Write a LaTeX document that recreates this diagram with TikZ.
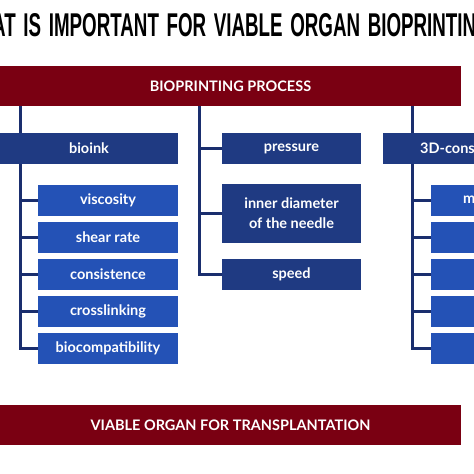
\documentclass[tikz,border=0pt]{standalone}
\usepackage{fontspec}
\setmainfont{Lato}
\newfontfamily\titlefont{Liberation Sans}
\usetikzlibrary{backgrounds}
\definecolor{barred}{RGB}{122,0,18}
\definecolor{navy}{RGB}{31,58,130}
\definecolor{brightblue}{RGB}{36,82,182}
\definecolor{linecol}{RGB}{26,46,110}
\tikzset{
  redbar/.style={fill=barred, draw=none, text=white, inner sep=0pt, minimum width=461pt, minimum height=40pt, font=\fontsize{14.5}{17}\selectfont\bfseries},
  headbox/.style={fill=navy, draw=none, text=white, inner sep=0pt, minimum height=31pt, font=\fontsize{14.5}{20}\selectfont\bfseries, align=center},
  itembox/.style={fill=brightblue, draw=none, text=white, inner sep=0pt, minimum width=140pt, minimum height=31pt, font=\fontsize{14.5}{20}\selectfont\bfseries},
  conn/.style={draw=linecol, line width=3pt},
  plaintext/.style={text=white, inner sep=0pt, font=\fontsize{14.5}{20}\selectfont\bfseries},
  titletext/.style={anchor=base west, inner sep=0pt, text=black}
}
\begin{document}
\begin{tikzpicture}[x=1pt,y=-1pt]
\useasboundingbox (0,0) rectangle (474,474);
\clip (0,0) rectangle (474,474);
% title
\node[titletext] (title) at (-8,36) {\resizebox{484pt}{23pt}{\titlefont\bfseries\fontsize{32}{32}\selectfont\spaceskip=13pt\relax AT IS IMPORTANT FOR VIABLE ORGAN BIOPRINTIN}};
% bars
\node[redbar] (proc) at (230.5,86) {BIOPRINTING PROCESS};
\node[redbar] (viable) at (230.5,425) {VIABLE ORGAN FOR TRANSPLANTATION};
% column 1
\node[headbox, minimum width=178pt] (bioink) at (89,148.5) {bioink};
\node[itembox] (visc) at (108,200) {viscosity};
\node[itembox] (shear) at (108,237.5) {shear rate};
\node[itembox] (cons) at (108,274.5) {consistence};
\node[itembox] (cross) at (108,311.5) {crosslinking};
\node[itembox] (biocomp) at (108,348.5) {biocompatibility};
% column 2
\node[headbox, minimum width=139pt] (press) at (291.5,148.5) {pressure};
\node[headbox, minimum width=139pt, minimum height=59pt] (inner) at (291.5,213.5) {inner diameter\\of the needle};
\node[headbox, minimum width=139pt] (speed) at (291.5,274.5) {speed};
% column 3
\node[headbox, minimum width=140pt] (constr) at (453,148.5) {};
\node[plaintext, anchor=west] (constrtext) at (420,148.5) {3D-cons};
\node[itembox] (r1) at (501,200) {};
\node[plaintext, anchor=west] (r1text) at (463,200) {m};
\node[itembox] (r2) at (501,237.5) {};
\node[itembox] (r3) at (501,274.5) {};
\node[itembox] (r4) at (501,311.5) {};
\node[itembox] (r5) at (501,348.5) {};
% connectors
\coordinate (c1) at (20,106);
\coordinate (c2) at (199,106);
\coordinate (c3) at (412,106);
\begin{scope}[on background layer]
\fill[white] (0,0) rectangle (474,474);
\draw[conn] (c1) |- (visc.west);
\draw[conn] (c1) |- (shear.west);
\draw[conn] (c1) |- (cons.west);
\draw[conn] (c1) |- (cross.west);
\draw[conn] (c1) |- (biocomp.west);
\draw[conn] (c2) |- (press.west);
\draw[conn] (c2) |- (inner.west);
\draw[conn] (c2) |- (speed.west);
\draw[conn] (c3) |- (r1.west);
\draw[conn] (c3) |- (r2.west);
\draw[conn] (c3) |- (r3.west);
\draw[conn] (c3) |- (r4.west);
\draw[conn] (c3) |- (r5.west);
\end{scope}
\end{tikzpicture}
\end{document}
